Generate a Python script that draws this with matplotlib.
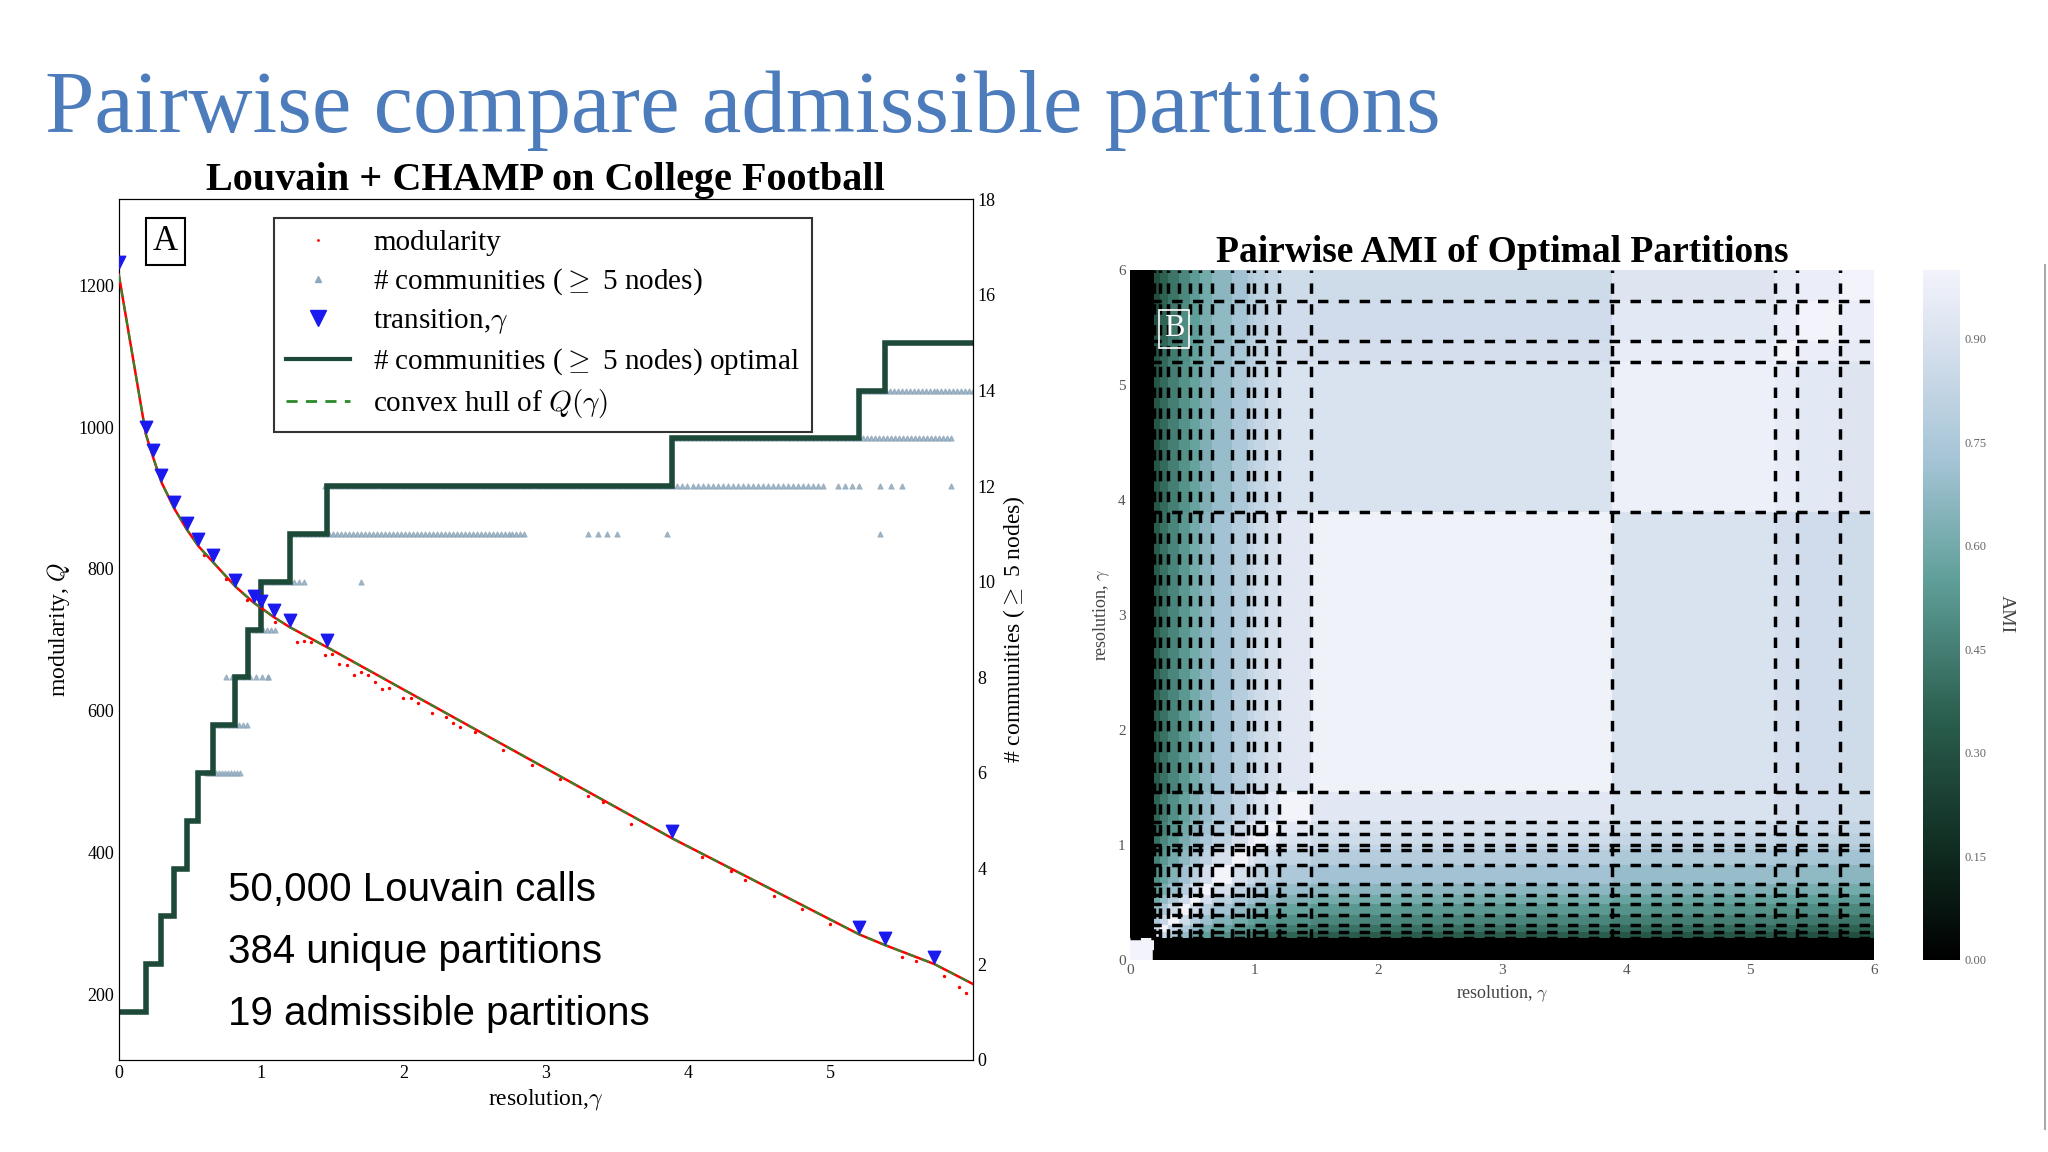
import numpy as np
import matplotlib
matplotlib.use("Agg")
import matplotlib.pyplot as plt
from matplotlib.colors import LinearSegmentedColormap
from matplotlib.lines import Line2D

plt.rcParams["font.family"] = "Liberation Serif"
plt.rcParams["mathtext.fontset"] = "cm"

# ---------------- data ----------------
hull_gamma = [0, 0.19, 0.24, 0.30, 0.39, 0.48, 0.56, 0.66, 0.82, 0.95, 1.00, 1.09, 1.20, 1.46, 3.89, 5.20, 5.38, 5.73, 6.0]
hull_Q = [1215, 990, 958, 922, 885, 855, 832, 810, 775, 752, 745, 732, 718, 690, 420, 285, 270, 243, 215]
trans_gamma = [0, 0.19, 0.24, 0.30, 0.39, 0.48, 0.56, 0.66, 0.82, 0.95, 1.00, 1.09, 1.20, 1.46, 3.89, 5.20, 5.38, 5.73]
trans_Q = [1232, 1000, 968, 932, 895, 865, 842, 820, 785, 762, 755, 742, 728, 700, 430, 295, 280, 253]
mod_gamma = [0.6, 0.9, 1.1, 1.3, 1.5, 1.6, 1.7, 1.8, 1.9, 2.0, 2.1, 2.2, 2.3, 2.4, 2.5, 2.7, 2.9, 3.1,
             3.3, 3.4, 3.6, 4.1, 4.4, 4.6, 4.8, 5.0, 5.5, 5.8, 5.9, 1.25, 1.45, 1.65, 0.75, 5.95,
             1.35, 1.55, 1.75, 1.85, 2.05, 2.35, 4.3, 5.6]
mod_drop = [4, 5, 6, 9, 6, 10, 8, 12, 9, 12, 8, 11, 6, 9, 5, 8, 6, 4, 6, 3, 12, 4, 6, 8, 5, 6, 8, 10, 14, 16, 12, 18, 4, 18,
            5, 14, 7, 16, 6, 9, 3, 6]
step_edges = [0, 0.19, 0.30, 0.39, 0.48, 0.56, 0.66, 0.82, 0.91, 1.00, 1.20, 1.46, 3.89, 5.20, 5.38, 6.0]
step_counts = [1, 2, 3, 4, 5, 6, 7, 8, 9, 10, 11, 12, 13, 14, 15]
# runs of gray triangles: (communities, gamma start, gamma end, number)
comm_runs = [(6, 0.62, 0.85, 12), (7, 0.7, 0.9, 8), (8, 0.75, 1.05, 8), (9, 0.95, 1.1, 6), (10, 1.0, 1.3, 10),
             (11, 1.2, 2.85, 60), (11, 3.3, 3.5, 4), (11, 3.85, 3.85, 1), (11, 5.35, 5.35, 1),
             (12, 1.45, 4.95, 100), (12, 5.05, 5.2, 4), (12, 5.35, 5.5, 3), (12, 5.85, 5.85, 1),
             (13, 3.9, 5.85, 70), (14, 5.2, 6.0, 30), (10, 1.7, 1.7, 1), (8, 1.05, 1.05, 1)]

bounds = [0, 0.19, 0.24, 0.30, 0.39, 0.48, 0.56, 0.66, 0.82, 0.95, 1.00, 1.09, 1.20, 1.46, 3.89, 5.20, 5.38, 5.73, 6.0]
ami_lower = [
    [1],
    [0, 1],
    [0, .85, 1],
    [0, .75, .85, 1],
    [0, .68, .76, .86, 1],
    [0, .60, .68, .77, .87, 1],
    [0, .55, .62, .70, .79, .88, 1],
    [0, .50, .57, .64, .72, .80, .88, 1],
    [0, .46, .53, .60, .67, .74, .81, .89, 1],
    [0, .43, .50, .56, .63, .70, .77, .84, .92, 1],
    [0, .41, .48, .54, .61, .68, .74, .81, .88, .95, 1],
    [0, .39, .46, .52, .59, .66, .72, .78, .85, .91, .95, 1],
    [0, .37, .44, .50, .57, .63, .69, .75, .82, .87, .90, .94, 1],
    [0, .34, .41, .47, .53, .60, .66, .72, .78, .83, .86, .89, .93, .99],
    [0, .32, .39, .45, .51, .57, .63, .69, .75, .80, .83, .86, .90, .90, .98],
    [0, .31, .38, .44, .50, .56, .62, .68, .74, .79, .82, .85, .88, .88, .96, 1],
    [0, .30, .37, .43, .49, .55, .61, .67, .73, .78, .81, .84, .87, .87, .94, .97, 1],
    [0, .29, .36, .42, .48, .54, .60, .66, .72, .77, .80, .83, .86, .86, .92, .95, .97, 1],
]
cbar_ticks = [0.00, 0.15, 0.30, 0.45, 0.60, 0.75, 0.90]

# ---------------- figure ----------------
fig = plt.figure(figsize=(20.48, 11.52), dpi=100)
fig.text(0.022, 0.885, "Pairwise compare admissible partitions", fontsize=64, color="#4d7cbc",
         family="Liberation Serif")

ax = fig.add_axes([0.058, 0.080, 0.417, 0.747])
ax2 = ax.twinx()
ax.set_zorder(ax2.get_zorder() + 1)
ax.patch.set_visible(False)

mq = np.interp(mod_gamma, hull_gamma, hull_Q) - np.array(mod_drop)
ax.scatter(mod_gamma, mq, s=2, color="red", zorder=2)
ax.plot(hull_gamma, hull_Q, color="red", lw=1.8, zorder=3)
ax.plot(hull_gamma, hull_Q, color="#2a8a2a", lw=1.5, ls=(0, (4, 3)), zorder=4)
ax.scatter(trans_gamma, trans_Q, marker="v", s=80, color="#1a1aee", zorder=5)

for k, g0, g1, n in comm_runs:
    gs = np.linspace(g0, g1, n)
    ax2.scatter(gs, [k] * n, marker="^", s=12, color="#8fa8bc", alpha=0.8, zorder=1)
ax2.stairs(step_counts, step_edges, color="#1d4a38", lw=4, baseline=None, zorder=2)

ax.set_xlim(0, 6)
ax.set_ylim(108, 1321)
ax2.set_ylim(0, 18)
ax.set_yticks([200, 400, 600, 800, 1000, 1200])
ax2.set_yticks([0, 2, 4, 6, 8, 10, 12, 14, 16, 18])
ax.set_xticks(range(6))
for a in (ax, ax2):
    a.tick_params(length=0, labelsize=13)
ax.set_xlabel(r"resolution,$\gamma$", fontsize=17)
ax.set_ylabel(r"modularity, $Q$", fontsize=17)
ax2.set_ylabel(r"# communities ($\geq$ 5 nodes)", fontsize=17)
ax.set_title("Louvain + CHAMP on College Football", fontsize=29, fontweight="bold", pad=6)

handles = [
    Line2D([], [], marker=".", ls="", color="red", markersize=2),
    Line2D([], [], marker="^", ls="", color="#8fa8bc", markersize=4),
    Line2D([], [], marker="v", ls="", color="#1a1aee", markersize=11),
    Line2D([], [], color="#1d4a38", lw=3),
    Line2D([], [], color="#2a8a2a", lw=2, ls=(0, (4, 3))),
]
labels = ["modularity", r"# communities ($\geq$ 5 nodes)", r"transition,$\gamma$",
          r"# communities ($\geq$ 5 nodes) optimal", r"convex hull of $Q(\gamma)$"]
leg = ax.legend(handles, labels, loc="upper left", bbox_to_anchor=(0.165, 0.995), fontsize=21,
                fancybox=False, edgecolor="#333333", framealpha=1, borderpad=0.4, labelspacing=0.35,
                handlelength=2.2)
leg.get_frame().set_linewidth(1.5)
ax.text(0.04, 0.97, "A", transform=ax.transAxes, fontsize=25, va="top",
        bbox=dict(boxstyle="square,pad=0.2", fc="white", ec="black", lw=1.5))
for i, t in enumerate(["50,000 Louvain calls", "384 unique partitions", "19 admissible partitions"]):
    ax.text(0.128, 0.197 - i * 0.072, t, transform=ax.transAxes, fontsize=29,
            family="Liberation Sans", va="center")

# ---------------- heatmap ----------------
n = len(ami_lower)
M = np.zeros((n, n))
for i, row in enumerate(ami_lower):
    for j, v in enumerate(row):
        M[i, j] = v
        M[j, i] = v
cmap = LinearSegmentedColormap.from_list("ami", [(0, "#000000"), (0.15, "#0f2a1f"), (0.35, "#2a5e4e"),
                                                 (0.55, "#5f9f99"), (0.72, "#a3c3d4"), (0.88, "#d3deec"),
                                                 (1.0, "#f2f3fb")])
hx = fig.add_axes([0.552, 0.167, 0.363, 0.599])
b = np.array(bounds)
pc = hx.pcolormesh(b, b, M, cmap=cmap, vmin=0, vmax=1, shading="flat")
for v in bounds[1:-1]:
    hx.axvline(v, color="black", lw=2.5, ls=(0, (3, 3)))
    hx.axhline(v, color="black", lw=2.5, ls=(0, (3, 3)))
hx.set_xlim(0, 6)
hx.set_ylim(0, 6)
hx.set_xticks(range(7))
hx.set_yticks(range(7))
hx.tick_params(length=0, labelsize=11, colors="#555555")
for s in hx.spines.values():
    s.set_visible(False)
hx.set_xlabel(r"resolution, $\gamma$", fontsize=13, color="#444444")
hx.set_ylabel(r"resolution, $\gamma$", fontsize=13, color="#444444")
hx.set_title("Pairwise AMI of Optimal Partitions", fontsize=27, fontweight="bold", pad=4)
hx.text(0.045, 0.935, "B", transform=hx.transAxes, fontsize=22, va="top", color="white",
        bbox=dict(boxstyle="square,pad=0.15", fc="none", ec="white", lw=1.2))

cx = fig.add_axes([0.939, 0.167, 0.018, 0.599])
cb = fig.colorbar(pc, cax=cx, ticks=cbar_ticks)
cb.outline.set_visible(False)
cx.set_yticklabels([f"{t:.2f}" for t in cbar_ticks])
cx.tick_params(length=0, labelsize=9, colors="#666666")
cb.set_label("AMI", rotation=270, labelpad=20, fontsize=14, color="#444444")

fig.add_artist(Line2D([0.9985, 0.9985], [0.02, 0.77], color="#aaaaaa", lw=1.5))
fig.savefig("out.png", dpi=100)
